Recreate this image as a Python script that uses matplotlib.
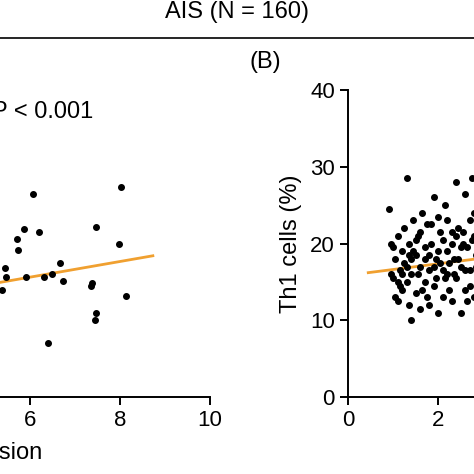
import matplotlib
matplotlib.use("Agg")
import matplotlib.pyplot as plt
plt.rcParams['font.family'] = ['Liberation Sans', 'DejaVu Sans']

# left panel data (expression vs Th1 %)
left_x = [6.07, 5.87, 5.71, 5.73, 6.31, 6.67, 5.91, 5.47, 5.44, 7.47, 6.73, 7.36, 7.38, 7.47, 7.44, 6.4, 8.02, 7.98, 8.13, 5.38, 6.2, 6.5]
left_y = [26.4, 21.9, 20.6, 19.1, 15.6, 17.5, 15.7, 15.7, 16.8, 22.2, 15.1, 14.5, 14.9, 10.9, 10.0, 7.0, 27.4, 19.9, 13.2, 13.9, 21.5, 16.0]
left_fit_x = [5.3, 8.73]
left_fit_y = [14.9, 18.4]

# right panel data
right_x = [0.9, 0.95, 1.0, 1.05, 1.1, 1.1, 1.15, 1.2, 1.2, 1.25, 1.3, 1.3, 1.35, 1.35, 1.4, 1.4, 1.45, 1.5, 1.5, 1.55,
           1.6, 1.6, 1.65, 1.7, 1.7, 1.75, 1.8, 1.8, 1.85, 1.9, 1.9, 1.95, 2.0, 2.0, 2.05, 2.1, 2.1, 2.15, 2.2, 2.2,
           2.25, 2.3, 2.3, 2.35, 2.4, 2.4, 2.45, 2.5, 2.5, 2.55, 2.6, 2.6, 2.65, 2.7, 2.7, 2.75, 2.8, 2.8, 2.85, 2.9,
           1.0, 1.15, 1.3, 1.45, 1.6, 1.75, 1.9, 2.05, 2.2, 2.35, 2.5, 2.65, 2.8, 1.05, 1.25, 1.55, 1.85, 2.15, 2.45, 2.75,
           0.95, 1.2, 1.4, 1.65, 1.95, 2.25, 2.55, 2.85, 1.1, 1.5, 1.8, 2.1, 2.4, 2.7, 1.35, 2.0, 2.6, 1.7, 2.3, 2.9]
right_y = [24.5, 16.0, 15.5, 18.0, 21.0, 12.5, 16.5, 19.0, 14.0, 22.0, 28.5, 17.0, 12.0, 20.0, 16.0, 10.0, 23.0, 18.5, 13.5, 21.0,
           17.0, 11.5, 24.0, 19.5, 15.0, 22.5, 16.5, 12.0, 20.0, 26.0, 14.5, 18.0, 23.5, 11.0, 17.5, 20.5, 13.0, 25.0, 16.0, 19.0,
           14.0, 21.5, 12.5, 18.0, 28.0, 15.5, 22.0, 17.0, 11.0, 20.0, 26.5, 14.0, 19.5, 23.0, 16.5, 28.5, 21.0, 13.0, 18.5, 25.0,
           19.5, 14.5, 15.0, 19.0, 21.5, 13.0, 17.0, 21.5, 23.0, 16.0, 19.5, 12.5, 24.0, 13.0, 17.5, 16.0, 22.5, 15.5, 18.0, 20.5,
           20.0, 16.0, 18.0, 14.0, 15.5, 17.5, 21.5, 17.0, 15.0, 20.5, 18.5, 16.5, 21.0, 14.5, 18.5, 19.0, 16.5, 18.0, 20.0, 22.0]
right_fit_x = [0.45, 3.0]
right_fit_y = [16.2, 18.1]

fig = plt.figure(figsize=(4.74, 4.74), dpi=100)
W = 474.0
bottom = 1 - 397 / W
height = (397 - 90) / W
axL = fig.add_axes([-240 / W, bottom, 450 / W, height])
axR = fig.add_axes([348 / W, bottom, 450 / W, height])

orange = '#f0a030'
for ax in (axL, axR):
    ax.set_xlim(0, 10)
    ax.set_ylim(0, 40)
    ax.set_xticks([0, 2, 4, 6, 8, 10])
    ax.set_yticks([0, 10, 20, 30, 40])
    for s in ('top', 'right'):
        ax.spines[s].set_visible(False)
    for s in ('left', 'bottom'):
        ax.spines[s].set_linewidth(1.4)
    ax.tick_params(labelsize=16, width=1.4, length=6)

axL.scatter(left_x, left_y, s=16, color='black', zorder=3)
axL.plot(left_fit_x, left_fit_y, color=orange, lw=2)
axL.set_xlabel('expression', fontsize=17, labelpad=8)
axL.text(5.15, 36.3, 'P < 0.001', fontsize=17)

axR.scatter(right_x, right_y, s=16, color='black', zorder=3)
axR.plot(right_fit_x, right_fit_y, color=orange, lw=2)
axR.set_ylabel('Th1 cells (%)', fontsize=17, labelpad=6)

fig.text(0.5, 1 - 12 / W, 'AIS (N = 160)', ha='center', va='center', fontsize=17)
fig.add_artist(plt.Line2D([0, 1], [1 - 38 / W, 1 - 38 / W], color='black', lw=1.2, transform=fig.transFigure))
fig.text(265 / W, 1 - 62 / W, '(B)', ha='center', va='center', fontsize=17)

fig.savefig('out.png', dpi=100)
